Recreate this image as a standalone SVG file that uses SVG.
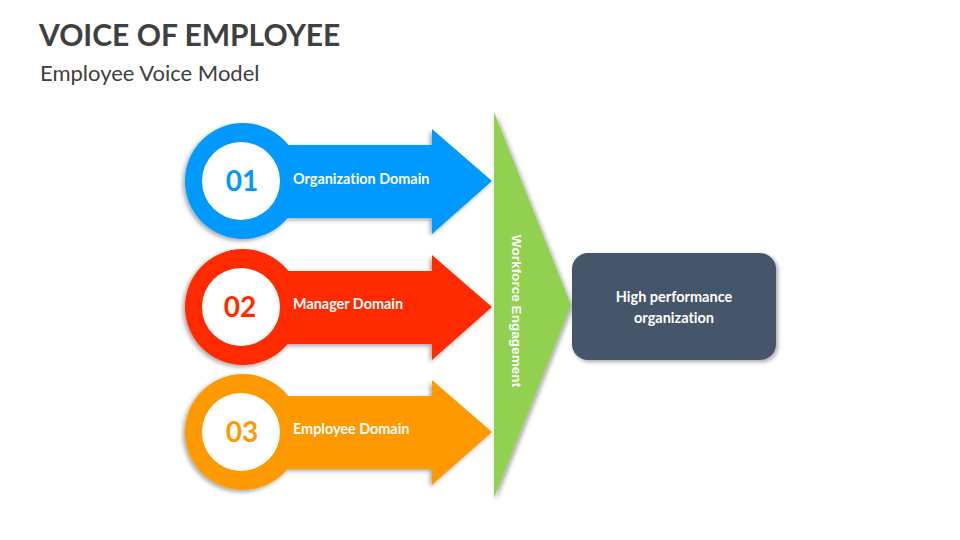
<svg xmlns="http://www.w3.org/2000/svg" width="960" height="540" viewBox="0 0 960 540">
  <defs>
    <filter id="sh" x="-20%" y="-20%" width="140%" height="140%">
      <feDropShadow dx="-2" dy="2" stdDeviation="2" flood-color="#000" flood-opacity="0.35"/>
    </filter>
    <filter id="sh2" x="-20%" y="-20%" width="140%" height="140%">
      <feDropShadow dx="2" dy="2" stdDeviation="2" flood-color="#000" flood-opacity="0.35"/>
    </filter>
  </defs>
  <style>
    text { font-variant-ligatures: none; }
    .title { font-family: Lato, "Open Sans", sans-serif; font-weight: 700; font-size: 30px; fill: #404040; }
    .sub { font-family: Lato, "Open Sans", sans-serif; font-size: 22px; fill: #404040; }
    .num { font-family: Lato, "Open Sans", sans-serif; font-weight: 700; font-size: 28px; text-anchor: middle; }
    .lbl { font-family: Lato, "Open Sans", sans-serif; font-weight: 700; font-size: 14.4px; fill: #ffffff; }
    .box { font-family: Lato, "Open Sans", sans-serif; font-weight: 700; font-size: 14.5px; fill: #ffffff; text-anchor: middle; }
    .vert { font-family: "Liberation Sans", Arial, sans-serif; font-weight: 700; font-size: 13.6px; fill: #ffffff; text-anchor: middle; }
  </style>
  <rect width="960" height="540" fill="#ffffff"/>
  <text class="title" x="39" y="46">VOICE OF EMPLOYEE</text>
  <text class="sub" x="40" y="81">Employee Voice Model</text>

  <g id="connectors"></g>

  <g id="node-01">
    <g filter="url(#sh)">
      <circle cx="243" cy="181" r="58" fill="#0099FF"/>
      <polygon points="243,145 432,145 432,129 492,181 432,234 432,218 243,218" fill="#0099FF"/>
    </g>
    <circle cx="241" cy="181" r="39" fill="#ffffff"/>
    <text class="num" x="242" y="191" fill="#0099FF">01</text>
    <text class="lbl" x="293" y="184">Organization Domain</text>
  </g>

  <g id="node-02">
    <g filter="url(#sh)">
      <circle cx="243" cy="307" r="58" fill="#FF2A00"/>
      <polygon points="243,271 432,271 432,255 492,307 432,360 432,344 243,344" fill="#FF2A00"/>
    </g>
    <circle cx="241" cy="307" r="39" fill="#ffffff"/>
    <text class="num" x="240" y="317" fill="#FF2A00">02</text>
    <text class="lbl" x="293" y="309">Manager Domain</text>
  </g>

  <g id="node-03">
    <g filter="url(#sh)">
      <circle cx="243" cy="432" r="58" fill="#FF9900"/>
      <polygon points="243,396 432,396 432,380 492,432 432,485 432,469 243,469" fill="#FF9900"/>
    </g>
    <circle cx="241" cy="432" r="39" fill="#ffffff"/>
    <text class="num" x="242" y="442" fill="#FF9900">03</text>
    <text class="lbl" x="293" y="434">Employee Domain</text>
  </g>

  <g id="workforce">
    <polygon points="494,112 571,305 494,498" fill="#92D050" filter="url(#sh2)"/>
    <text class="vert" transform="translate(512,311) rotate(90)">Workforce Engagement</text>
  </g>

  <g id="high-performance">
    <rect x="572" y="253" width="204" height="107" rx="16" ry="16" fill="#44546A" filter="url(#sh2)"/>
    <text class="box" x="674" y="302">High performance</text>
    <text class="box" x="674" y="323">organization</text>
  </g>
</svg>
